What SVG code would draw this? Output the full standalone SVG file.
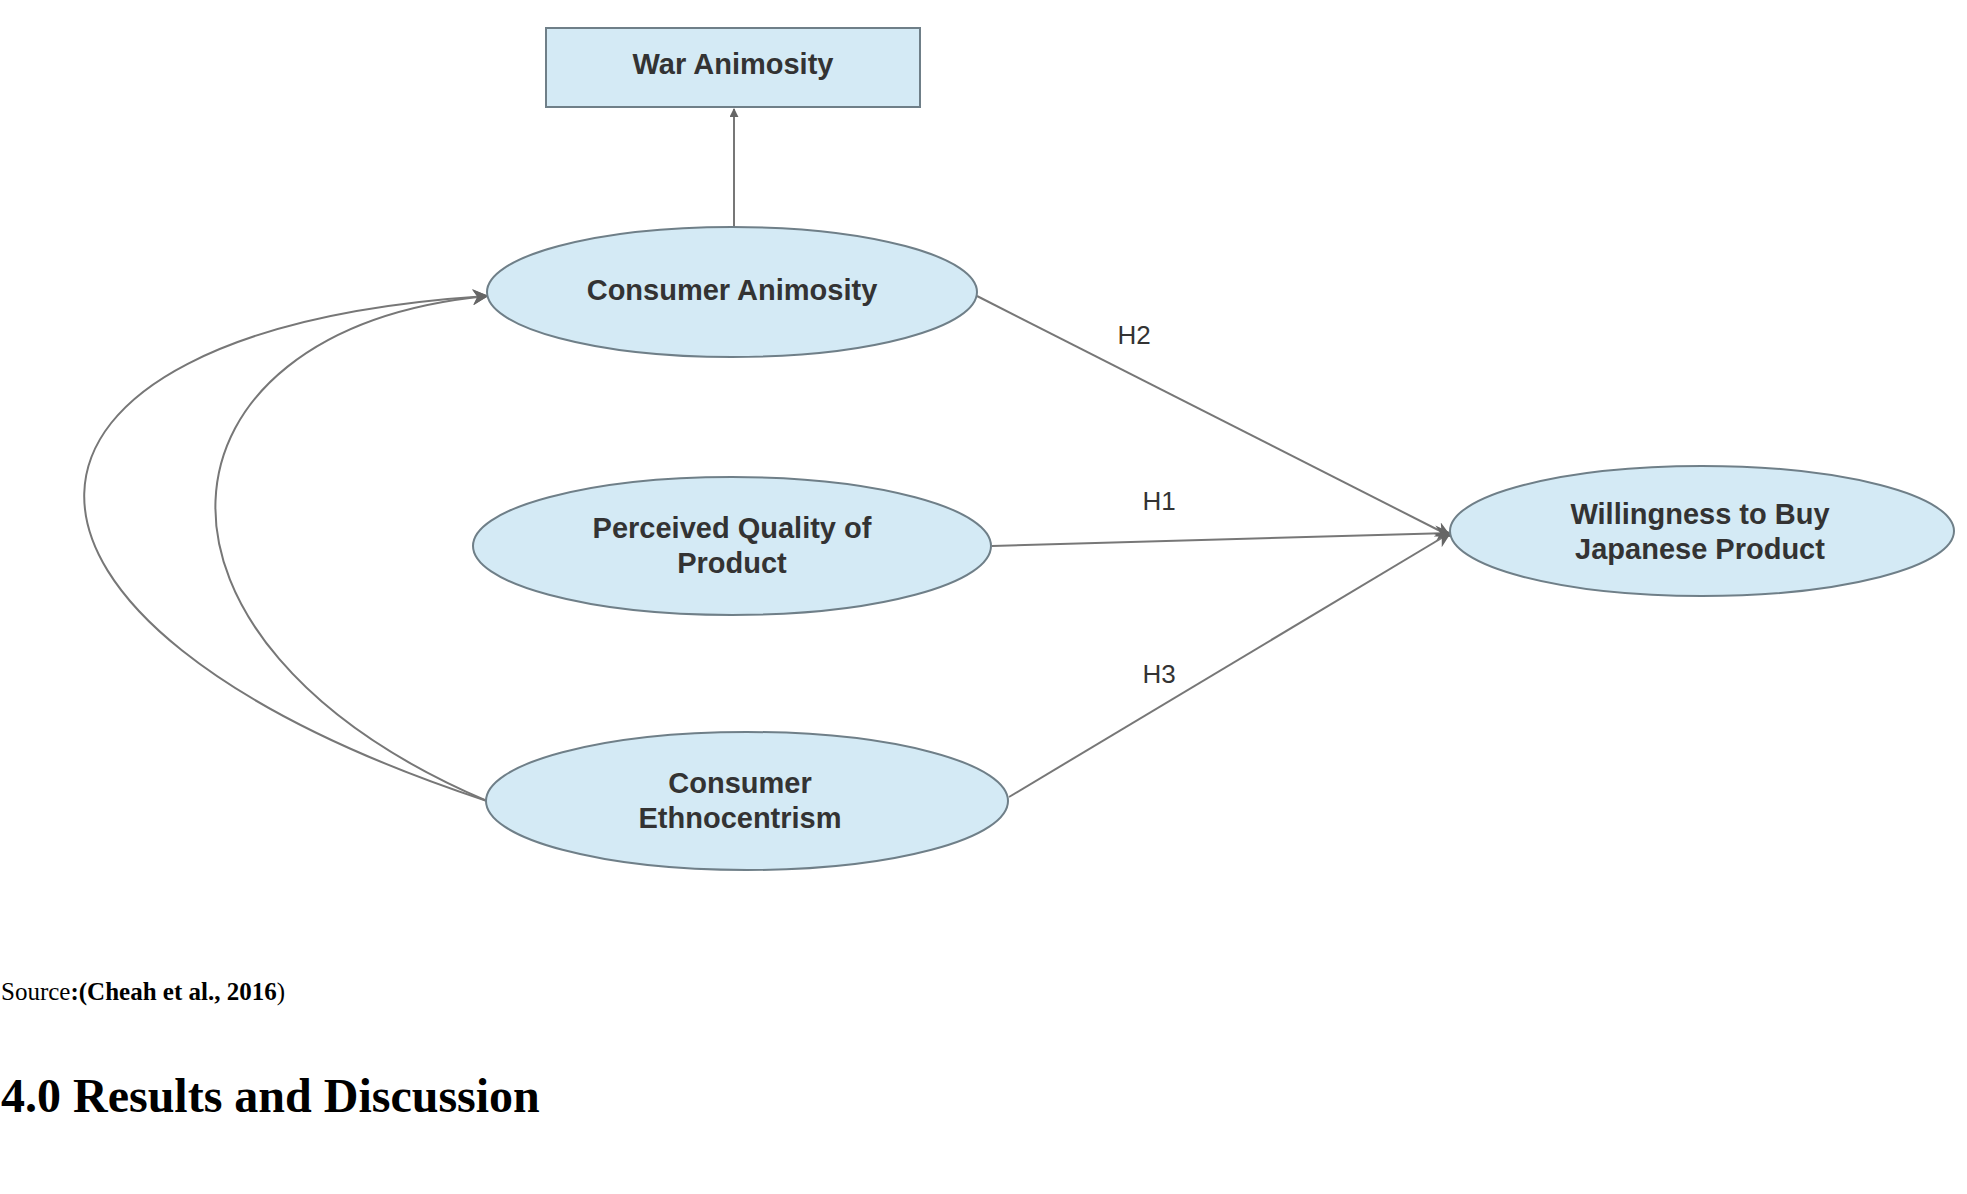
<svg xmlns="http://www.w3.org/2000/svg" width="1967" height="1194" viewBox="0 0 1967 1194">
<style>
.n{fill:#d4eaf5;stroke:#6f7f88;stroke-width:2}
.t{font-family:"Liberation Sans",Arial,sans-serif;font-weight:bold;font-size:29px;fill:#333;text-anchor:middle}
.l{font-family:"Liberation Sans",Arial,sans-serif;font-size:26px;fill:#333;text-anchor:middle}
.c{fill:none;stroke:#777;stroke-width:2}
</style>
<defs><marker id="a" viewBox="0 0 10 10" refX="9" refY="5" markerWidth="9" markerHeight="9" markerUnits="userSpaceOnUse" orient="auto"><path d="M0,0L10,5L0,10z" fill="#666"/></marker>
<marker id="b" viewBox="0 0 10 10" refX="9" refY="5" markerWidth="16" markerHeight="16" markerUnits="userSpaceOnUse" orient="auto"><path d="M0,0L10,5L0,10L3,5z" fill="#666"/></marker></defs>
<rect width="1967" height="1194" fill="#fff"/>
<g id="connectors">
<line class="c" x1="734" y1="228" x2="734" y2="109" marker-end="url(#a)"/>
<line class="c" x1="977" y1="296" x2="1450" y2="536" marker-end="url(#b)"/>
<line class="c" x1="992" y1="546" x2="1450" y2="533" marker-end="url(#b)"/>
<line class="c" x1="1009" y1="797" x2="1450" y2="533" marker-end="url(#b)"/>
<path class="c" d="M487,801 C-60,620 -40,330 487,296" marker-start="url(#b)" marker-end="url(#b)"/>
<path class="c" d="M487,801 C110,640 140,330 487,296" marker-end="url(#b)"/>
<text class="l" x="1134" y="344">H2</text>
<text class="l" x="1159" y="510">H1</text>
<text class="l" x="1159" y="683">H3</text>
</g>
<g id="war"><rect class="n" x="546" y="28" width="374" height="79"/><text class="t" x="733" y="74">War Animosity</text></g>
<g id="ca"><ellipse class="n" cx="732" cy="292" rx="245" ry="65"/><text class="t" x="732" y="300">Consumer Animosity</text></g>
<g id="pq"><ellipse class="n" cx="732" cy="546" rx="259" ry="69"/><text class="t" x="732" y="538">Perceived Quality of</text><text class="t" x="732" y="573">Product</text></g>
<g id="ce"><ellipse class="n" cx="747" cy="801" rx="261" ry="69"/><text class="t" x="740" y="793">Consumer</text><text class="t" x="740" y="828">Ethnocentrism</text></g>
<g id="wb"><ellipse class="n" cx="1702" cy="531" rx="252" ry="65"/><text class="t" x="1700" y="524">Willingness to Buy</text><text class="t" x="1700" y="559">Japanese Product</text></g>
<text x="1" y="1000" font-family="Liberation Serif,serif" font-size="25px">Source<tspan font-weight="bold">:(Cheah et al., 2016</tspan>)</text>
<text x="1" y="1112" font-family="Liberation Serif,serif" font-size="48px" font-weight="bold">4.0 Results and Discussion</text>
</svg>
